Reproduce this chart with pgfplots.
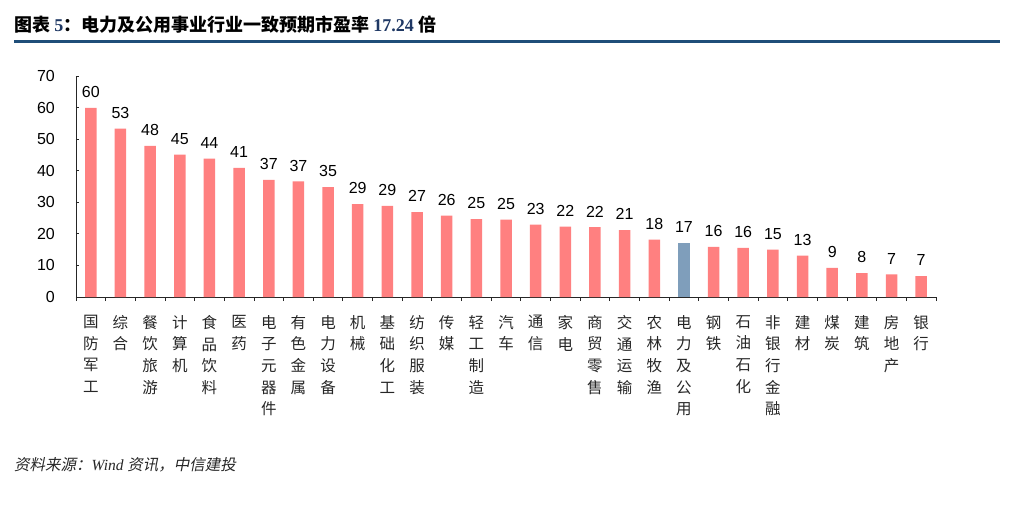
\documentclass[border=0pt]{standalone}
\usepackage{fontspec}
\usepackage{pgfplots}
\usepackage{pgfplotstable}
\pgfplotsset{compat=1.18}
\setmainfont{Liberation Sans}
\newfontfamily\cjk{Noto Sans CJK SC}
\newfontfamily\cjkit{Noto Sans CJK SC}[FakeSlant=0.2]
\newfontfamily\tnr{Liberation Serif}
\definecolor{pinkbar}{RGB}{255,128,128}
\definecolor{bluebar}{RGB}{127,158,187}
\definecolor{titleblue}{RGB}{31,56,100}
\definecolor{rulecol}{RGB}{31,78,121}

% PE by industry; x = position, y = value, lab = printed label
\pgfplotstableread{
x y lab
0 59.9 60
1 53.3 53
2 47.9 48
3 45.1 45
4 43.8 44
5 40.9 41
6 37.1 37
7 36.6 37
8 34.8 35
9 29.4 29
10 28.9 29
11 26.9 27
12 25.8 26
13 24.7 25
14 24.5 25
15 22.9 23
16 22.3 22
17 22.1 22
18 21.2 21
19 18.2 18
21 15.9 16
22 15.6 16
23 15.0 15
24 13.1 13
25 9.2 9
26 7.6 8
27 7.2 7
28 6.6 7
}\others
\pgfplotstableread{
x y lab
20 17.24 17
}\utility

\begin{document}
\begin{tikzpicture}[x=1pt,y=1pt]
\useasboundingbox (0,0) rectangle (1009,504);
\node[anchor=base west, inner sep=0pt, font=\fontsize{18}{20}\selectfont] at (14,472)
  {{\cjk\bfseries 图表 }{\tnr\bfseries\color{titleblue}5}{\cjk\bfseries ：电力及公用事业行业一致预期市盈率 }{\tnr\bfseries\color{titleblue}17.24}{\cjk\bfseries\ 倍}};
\draw[line width=3pt, rulecol] (14,462.5) -- (1000,462.5);
\node[anchor=base west, inner sep=0pt, font=\fontsize{15.5}{18}\selectfont, text=black!85] at (14,34)
  {{\cjkit 资料来源：}{\tnr\itshape Wind }{\cjkit 资讯，中信建投}};
\begin{axis}[
    at={(76pt,207pt)}, anchor=south west,
    scale only axis, width=860pt, height=221pt,
    xmin=-0.5, xmax=28.5, ymin=0, ymax=70,
    axis x line=bottom, axis y line=left,
    axis line style={-, line width=0.8pt, black!85},
    ytick={0,10,...,70},
    xtick={0,...,28},
    minor xtick={-0.5,0.5,...,28.5},
    tick align=inside,
    major tick length=3pt,
    x tick style={draw=none},
    minor x tick style={draw=black!85, line width=0.8pt},
    minor tick length=4pt,
    y tick style={black!85, line width=0.8pt},
    /pgf/number format/assume math mode=true,
    yticklabel style={font=\fontsize{16}{18}\selectfont, inner sep=0pt, xshift=-21pt},
    xticklabel style={font=\cjk\fontsize{15.5}{21.7}\selectfont, align=center, anchor=north, inner sep=0pt, yshift=-15pt, text=black!85},
    xticklabels={国\\防\\军\\工, 综\\合, 餐\\饮\\旅\\游, 计\\算\\机, 食\\品\\饮\\料, 医\\药, 电\\子\\元\\器\\件, 有\\色\\金\\属, 电\\力\\设\\备, 机\\械, 基\\础\\化\\工, 纺\\织\\服\\装, 传\\媒, 轻\\工\\制\\造, 汽\\车, 通\\信, 家\\电, 商\\贸\\零\\售, 交\\通\\运\\输, 农\\林\\牧\\渔, 电\\力\\及\\公\\用, 钢\\铁, 石\\油\\石\\化, 非\\银\\行\\金\\融, 建\\材, 煤\\炭, 建\\筑, 房\\地\\产, 银\\行},
    ybar, bar width=11.5pt,
    point meta=explicit symbolic,
    nodes near coords,
    every node near coord/.append style={font=\fontsize{16}{18}\selectfont, inner sep=0pt, yshift=10pt, anchor=south},
    clip=false,
]
\addplot[fill=pinkbar, draw=none, bar shift=0pt] table[x=x, y=y, meta=lab] {\others};
\addplot[fill=bluebar, draw=none, bar shift=0pt] table[x=x, y=y, meta=lab] {\utility};
\end{axis}
\end{tikzpicture}
\end{document}
